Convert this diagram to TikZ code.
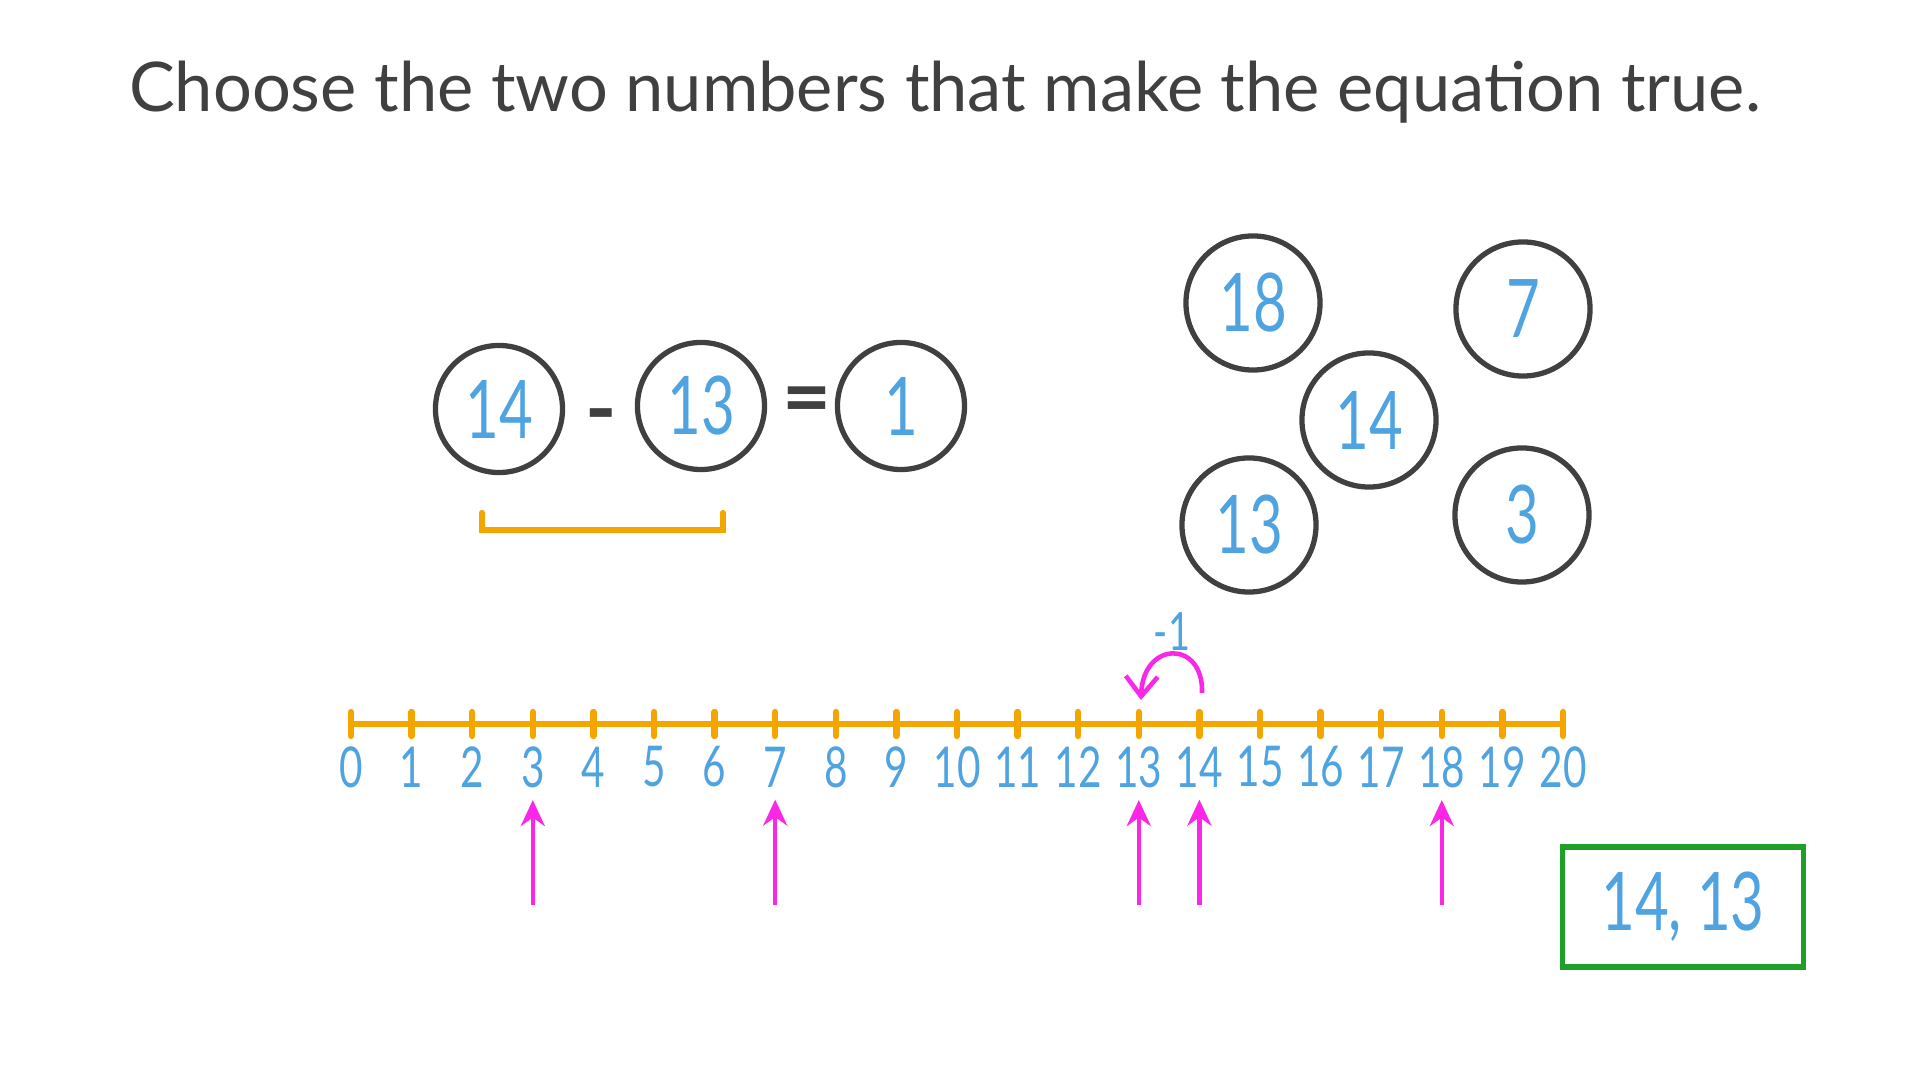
\documentclass[tikz,border=0pt]{standalone}
\usepackage{fontspec}
\setmainfont{Lato}
\newfontfamily\narrowdigits[FakeStretch=0.72]{Lato}
\usetikzlibrary{arrows.meta, positioning}
\definecolor{inkgray}{RGB}{64,64,64}
\definecolor{numblue}{RGB}{79,163,224}
\definecolor{lineorange}{RGB}{245,165,0}
\definecolor{jumppink}{RGB}{250,40,230}
\definecolor{answergreen}{RGB}{30,160,40}
\tikzset{
    numcircle/.style={circle, draw=inkgray, line width=1.5pt, minimum size=1.27cm, inner sep=0pt, text=numblue, font=\narrowdigits\fontsize{23}{23}\selectfont},
    pickcircle/.style={numcircle, minimum size=1.34cm},
    sign/.style={text=inkgray, font=\fontsize{24}{24}\selectfont\bfseries},
    numline/.style={line width=1.8pt, lineorange, line cap=round},
    ticklabel/.style={text=numblue, font=\narrowdigits\fontsize{16}{16}\selectfont},
    jump/.style={-{Stealth[length=2.6mm, width=2.4mm]}, line width=1.3pt, jumppink},
    hop/.style={-{Straight Barb[length=2mm, width=3.2mm]}, line width=1.3pt, jumppink},
    answerbox/.style={rectangle, draw=answergreen, line width=1.5pt, minimum width=2.41cm, minimum height=1.2cm, text=numblue, font=\narrowdigits\fontsize{23}{23}\selectfont},
}
\begin{document}
\begin{tikzpicture}[x=0.01cm, y=-0.01cm]
    \useasboundingbox (0,0) rectangle (1920,1080);
    \node[text=inkgray, font=\fontsize{19.5}{19.5}\selectfont] (title) at (945,92) {Choose the two numbers that make the equation true.};
    % equation
    \node[numcircle] (first) at (499,409) {14};
    \node[sign] (minus) at (601,424) {-};
    \node[numcircle] (second) at (701,406) {13};
    \node[sign] (equals) at (807,407) {=};
    \node[numcircle] (result) at (901,406) {1};
    \draw[numline] (482,513) |- (723,530) -- (723,513);
    % choices
    \node[pickcircle] (c18) at (1253,303) {18};
    \node[pickcircle] (c7) at (1523,309) {7};
    \node[pickcircle] (c14) at (1369,420) {14};
    \node[pickcircle] (c13) at (1249,525) {13};
    \node[pickcircle] (c3) at (1522,515) {3};
    % number line
    \coordinate (t0) at (351,724);
    \coordinate (t20) at (1563,724);
    \draw[numline] (t0) -- (t20);
    \foreach \i in {0,...,20} {
        \coordinate (t\i) at (351+60.6*\i,724);
        \draw[numline] (351+60.6*\i,712) -- (351+60.6*\i,736);
        \node[ticklabel] (l\i) at (351+60.6*\i,767) {\i};
    }
    \foreach \i in {3,7,13,14,18} {
        \coordinate (a\i) at (351+60.6*\i,905);
        \draw[jump] (a\i) -- (l\i.south);
    }
    % jump back one
    \node[ticklabel, font=\narrowdigits\fontsize{15}{15}\selectfont] (back) at (1172,632) {-1};
    \coordinate (j14) at (1202,693);
    \coordinate (j13) at (1141,700);
    \draw[hop] (j14) .. controls (1204,640) and (1143,640) .. (j13);
    % answer
    \node[answerbox] (answer) at (1683,907) {14, 13};
\end{tikzpicture}
\end{document}
